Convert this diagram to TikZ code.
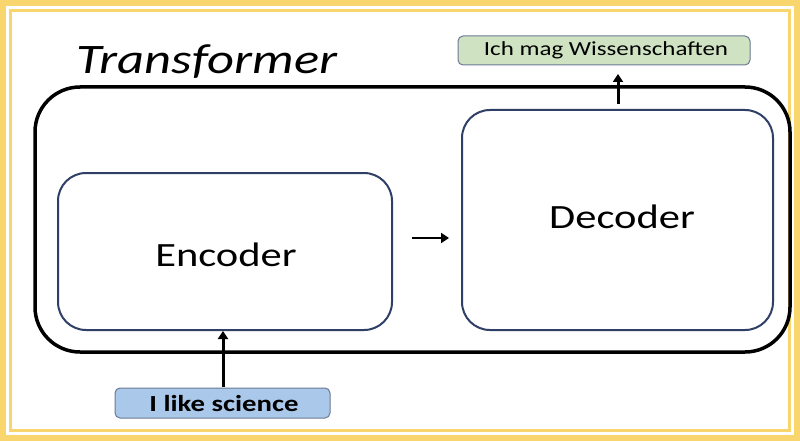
\documentclass[tikz,border=0pt]{standalone}
\usepackage{fontspec}
\setmainfont{Carlito}
\usetikzlibrary{arrows.meta}
\definecolor{yel}{HTML}{F9D56E}
\definecolor{navy}{HTML}{2F3F66}
\definecolor{gfill}{HTML}{CFE3C3}
\definecolor{bfill}{HTML}{A9C8EA}
\begin{document}
\begin{tikzpicture}[x=1pt,y=-1pt,
 blk/.style={draw=navy,line width=2pt,rounded corners=28pt},
 lab/.style={draw=navy!70,line width=1pt,rounded corners=5pt,inner sep=0pt},
 txt/.style={xscale=1.25,inner sep=0pt},
 arr/.style={line width=3pt,-{Triangle[length=8pt,width=10pt]}}]
\useasboundingbox (0,0) rectangle (800,441);
\fill[yel] (0,0) rectangle (800,441);
\fill[white] (6,6) rectangle (794,435);
\fill[yel] (9,9) rectangle (791,432);
\fill[white] (12,12) rectangle (788,429);
\draw[line width=3.5pt,rounded corners=45pt] (35,87) rectangle (790,352);
\node[blk,minimum width=334pt,minimum height=157pt] (enc) at (225,251.5) {};
\node[blk,minimum width=311pt,minimum height=220pt] (dec) at (617.5,220) {};
\node[lab,fill=gfill,minimum width=292pt,minimum height=29pt] (out) at (604,50.5) {};
\node[lab,fill=bfill,minimum width=215pt,minimum height=30pt] (in) at (222.5,403) {};
\node[txt,font=\itshape\fontsize{42}{48}\selectfont] (t) at (207,62) {Transformer};
\node[txt,font=\fontsize{34}{40}\selectfont] (enct) at (226,255) {Encoder};
\node[txt,font=\fontsize{34}{40}\selectfont] (dect) at (622,217) {Decoder};
\node[txt,font=\fontsize{20}{24}\selectfont] (outt) at (606,50) {Ich mag Wissenschaften};
\node[txt,font=\bfseries\fontsize{23}{28}\selectfont] (int) at (224,404) {I like science};
\coordinate (a1) at (412,238); \coordinate (a2) at (449,238);
\draw[arr,line width=2.5pt] (a1) -- (a2);
\coordinate (o1) at (618,104); \coordinate (o2) at (618,74);
\draw[arr] (o1) -- (o2);
\coordinate (i1) at (223,387); \coordinate (i2) at (223,331);
\draw[arr] (i1) -- (i2);
\end{tikzpicture}
\end{document}
